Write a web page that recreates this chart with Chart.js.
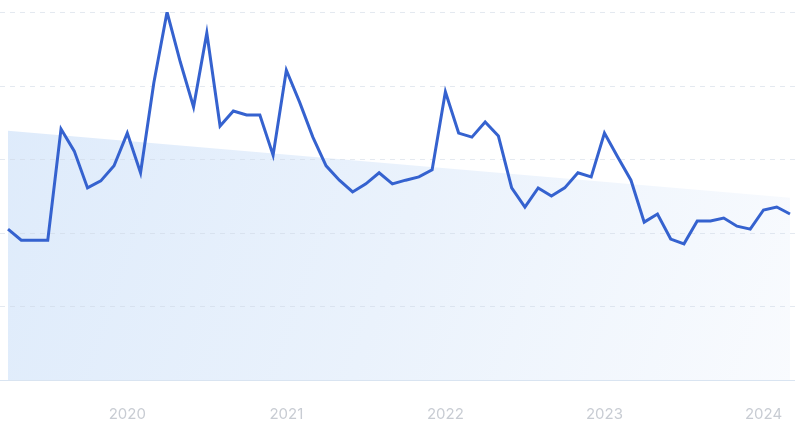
<!DOCTYPE html>
<html>
<head>
<meta charset="utf-8">
<script src="https://cdn.jsdelivr.net/npm/chart.js@4.4.1/dist/chart.umd.min.js"></script>
<style>
  html, body { margin: 0; padding: 0; background: #ffffff; overflow: hidden; }
  #wrap { width: 795px; height: 424px; position: relative; }
</style>
</head>
<body>
<div id="wrap"><canvas id="c" width="795" height="424"></canvas></div>
<script>
// Monthly categories, Apr 2019 .. Mar 2024
const months = [
  "2019-04","2019-05","2019-06","2019-07","2019-08","2019-09","2019-10","2019-11","2019-12",
  "2020-01","2020-02","2020-03","2020-04","2020-05","2020-06","2020-07","2020-08","2020-09","2020-10","2020-11","2020-12",
  "2021-01","2021-02","2021-03","2021-04","2021-05","2021-06","2021-07","2021-08","2021-09","2021-10","2021-11","2021-12",
  "2022-01","2022-02","2022-03","2022-04","2022-05","2022-06","2022-07","2022-08","2022-09","2022-10","2022-11","2022-12",
  "2023-01","2023-02","2023-03","2023-04","2023-05","2023-06","2023-07","2023-08","2023-09","2023-10","2023-11","2023-12",
  "2024-01","2024-02","2024-03"
];
// Search interest (0-100)
const interest = [
  41, 38, 38, 38, 68.2, 62.2, 52.2, 54.1, 58.2,
  67.1, 56.3, 80.7, 100, 86.4, 74.2, 94.3, 69, 73.1, 72, 72, 61.1,
  84.2, 75.5, 66, 58.2, 54.3, 51.1, 53.3, 56.3, 53.3, 54.3, 55.2, 57.1,
  78.3, 67.1, 66, 70.1, 66.3, 52.2, 47, 52.2, 50, 52.2, 56.3, 55.2,
  67.1, 60.6, 54.3, 42.9, 45.1, 38.3, 37, 43.2, 43.2, 44, 41.8, 41, 46.2, 47, 45.1
];
// Linear trend endpoints (first month, last month)
const trendEnds = [67.7, 49.5];
const yTicks = [0, 20, 40, 60, 80, 100];
const yearLabels = ["2020", "2021", "2022", "2023", "2024"];

const yearTickIdx = yearLabels.map(y => months.indexOf(y + "-01"));
const lineData = interest.map((v, i) => ({ x: i, y: v }));
const trendData = [
  { x: 0, y: trendEnds[0] },
  { x: months.length - 1, y: trendEnds[1] }
];

function fillGradient(ctx) {
  const chart = ctx.chart;
  const a = chart.chartArea;
  if (!a) return 'rgba(220,234,251,1)';
  const g = chart.ctx.createLinearGradient(a.left, a.top + 100, a.right, a.bottom);
  g.addColorStop(0, '#deebfb');
  g.addColorStop(0.5, '#eaf2fc');
  g.addColorStop(1, '#f9fbfe');
  return g;
}

// draw the dashed grid above the fill but beneath the line
const gridAbove = {
  id: 'gridAbove',
  beforeDatasetDraw(chart, args) {
    if (args.index !== 0) return;
    const y = chart.scales.y, a = chart.chartArea, c = chart.ctx;
    c.save();
    c.strokeStyle = 'rgba(205,215,228,0.55)';
    c.lineWidth = 1;
    c.setLineDash([5, 5]);
    yTicks.forEach(v => {
      if (v === 0) return;
      const py = Math.round(y.getPixelForValue(v)) + 0.5;
      c.beginPath(); c.moveTo(a.left, py); c.lineTo(a.right, py); c.stroke();
    });
    c.restore();
  }
};

new Chart(document.getElementById('c'), {
  type: 'line',
  data: {
    datasets: [
      {
        data: lineData,
        borderColor: '#3562cf',
        borderWidth: 3,
        pointRadius: 0,
        fill: false,
        tension: 0,
        order: 0
      },
      {
        data: trendData,
        borderWidth: 0,
        borderColor: 'rgba(0,0,0,0)',
        backgroundColor: fillGradient,
        pointRadius: 0,
        fill: 'origin',
        tension: 0,
        order: 1
      }
    ]
  },
  plugins: [gridAbove],
  options: {
    responsive: false,
    animation: false,
    events: [],
    layout: { padding: { top: 12, left: 0, right: 0, bottom: 0 } },
    plugins: { legend: { display: false }, tooltip: { enabled: false } },
    scales: {
      x: {
        type: 'linear',
        min: -0.604,
        max: 59.377,
        afterBuildTicks: (axis) => { axis.ticks = yearTickIdx.map(v => ({ value: v })); },
        afterFit: (axis) => {
          axis.height = 44;
          axis.paddingLeft = 0; axis.paddingRight = 0;
        },
        ticks: {
          autoSkip: false,
          maxRotation: 0,
          padding: 25,
          color: '#c8ccd3',
          font: { family: 'Inter', size: 15 },
          callback: (v) => {
            const k = yearTickIdx.indexOf(v);
            return k >= 0 ? yearLabels[k] : '';
          }
        },
        grid: { display: false, drawTicks: false },
        border: { display: true, color: '#d9e4f1', width: 1 }
      },
      y: {
        min: 0,
        max: 100,
        afterBuildTicks: (axis) => { axis.ticks = yTicks.map(v => ({ value: v })); },
        afterFit: (axis) => { axis.width = 0; axis.paddingTop = 0; axis.paddingBottom = 0; },
        ticks: { display: false },
        grid: { display: false, drawTicks: false },
        border: { display: false }
      }
    }
  }
});
</script>
</body>
</html>
